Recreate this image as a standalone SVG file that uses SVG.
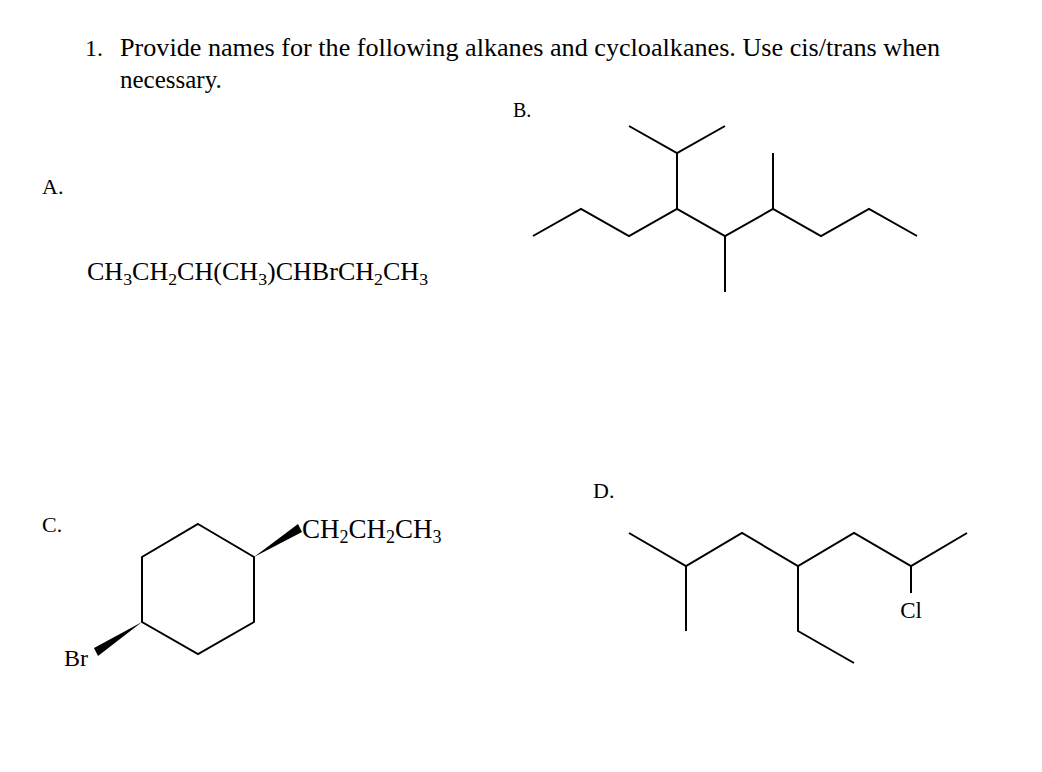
<svg xmlns="http://www.w3.org/2000/svg" width="1042" height="772" viewBox="0 0 1042 772">
<style>
text{font-family:"Liberation Serif",serif;font-size:25px;fill:#000}
.b{fill:none;stroke:#000;stroke-width:2;stroke-linejoin:miter}
.s{font-size:17px}
.l{font-size:22px}
.c{font-size:27px}
.cs{font-size:18px}
</style>
<rect width="1042" height="772" fill="#fff"/>
<g id="title"><text x="85" y="56" style="font-size:24px">1.</text><text x="120" y="56" textLength="820" lengthAdjust="spacingAndGlyphs">Provide names for the following alkanes and cycloalkanes.  Use cis/trans when</text><text x="120" y="88">necessary.</text></g>
<g id="A"><text class="l" x="42" y="194">A.</text>
<text x="87" y="280" textLength="341" lengthAdjust="spacingAndGlyphs">CH<tspan class="s" dy="5">3</tspan><tspan dy="-5">CH</tspan><tspan class="s" dy="5">2</tspan><tspan dy="-5">CH(CH</tspan><tspan class="s" dy="5">3</tspan><tspan dy="-5">)CHBrCH</tspan><tspan class="s" dy="5">2</tspan><tspan dy="-5">CH</tspan><tspan class="s" dy="5">3</tspan></text></g>
<g id="B"><text class="l" x="513" y="117" style="font-size:20px">B.</text>
<polyline class="b" points="533,236 581,209 629,236 677,209 725,236 773,209 821,236 869,209 917,236"/>
<polyline class="b" points="629,126 677,153 725,126"/>
<line class="b" x1="677" y1="153" x2="677" y2="209"/>
<line class="b" x1="773" y1="153" x2="773" y2="209"/>
<line class="b" x1="725" y1="236" x2="725" y2="292"/></g>
<g id="C"><text class="l" x="42" y="532">C.</text>
<polygon class="b" points="198,524 254,557 254,622 198,654 142,622 142,557"/>
<polygon points="254,557 298,524 302,532"/>
<polygon points="142,622 94,648 98,656"/>
<text x="64" y="666" style="font-size:24px">Br</text>
<text class="c" x="302" y="538">CH<tspan class="cs" dy="5">2</tspan><tspan dy="-5">CH</tspan><tspan class="cs" dy="5">2</tspan><tspan dy="-5">CH</tspan><tspan class="cs" dy="5">3</tspan></text></g>
<g id="D"><text class="l" x="593" y="498">D.</text>
<polyline class="b" points="629,533 686,566 742,533 798,566 854,533 911,566 967,533"/>
<line class="b" x1="686" y1="566" x2="686" y2="631"/>
<polyline class="b" points="798,566 798,631 854,663"/>
<line class="b" x1="911" y1="566" x2="911" y2="593"/>
<text x="911" y="618" text-anchor="middle" style="font-size:23px">Cl</text></g>
<g id="connectors"/>
</svg>
